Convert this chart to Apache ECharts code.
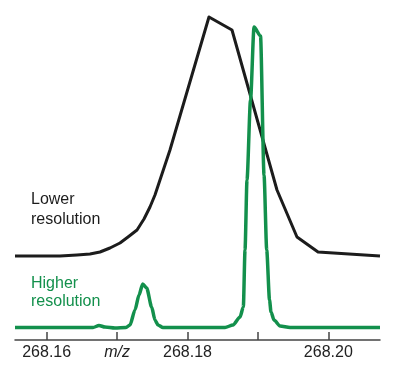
<!DOCTYPE html>
<html>
<head>
<meta charset="utf-8">
<script src="https://cdn.jsdelivr.net/npm/echarts@6/dist/echarts.min.js"></script>
<style>
html,body{margin:0;padding:0;background:#fff;}
#chart{width:393px;height:367px;}
</style>
</head>
<body>
<div id="chart"></div>
<script>
// m/z positions and relative intensities (arbitrary units)
const lowerMz = [268.15550,268.16189,268.16430,268.16615,268.16757,268.16899,268.17041,268.17155,268.17283,268.17382,268.17467,268.17538,268.17609,268.17751,268.18305,268.18632,268.19271,268.19555,268.19854,268.20734];
const lowerInt = [84,84,85,86,88,92,97,103,110,121,133,145,160,190,323,310,150,103,88,84];

const higherMz = [268.15550,268.16544,268.16658,268.16743,268.16828,268.16970,268.17126,268.17183,268.17254,268.17311,268.17364,268.17420,268.17491,268.17538,268.17581,268.17652,268.18533,268.18646,268.18746,268.18793,268.18817,268.18845,268.18895,268.18945,268.19037,268.19087,268.19125,268.19165,268.19186,268.19229,268.19314,268.19456,268.20734];
const higherInt = [12.5,12.5,12.5,14.5,13,12,12.5,15,30,45,56,52,33,20,15,12.5,12.5,15,23,33,90,160,240,313,304,165,90,40,28,20,14,12.5,12.5];

const tickValues = [268.16,268.17,268.18,268.19,268.20];
const labelValues = [268.16,268.17,268.18,268.20];
const axisName = 'm/z';
const axisMin = 268.15550, axisMax = 268.20734;

const chart = echarts.init(document.getElementById('chart'));
const FONT = '"Liberation Sans", Arial, Helvetica, sans-serif';
const GREEN = '#13904c';
const BLACK = '#1c1c1c';

chart.setOption({
  animation:false,
  backgroundColor:'#fff',
  grid:{left:15,right:13,top:10,bottom:27},
  xAxis:{
    type:'value', min:axisMin, max:axisMax,
    axisLine:{show:true, lineStyle:{color:'#444', width:1.5}},
    axisTick:{show:true, inside:true, length:8, customValues:tickValues, lineStyle:{color:'#444', width:1.5}},
    splitLine:{show:false},
    axisLabel:{
      customValues:labelValues, margin:5, color:'#222', fontSize:16, fontFamily:FONT,
      formatter:function(v){ return Math.abs(v-268.17)<1e-6 ? '{i|'+axisName+'}' : Number(v).toFixed(2); },
      rich:{i:{fontStyle:'italic', fontSize:16, fontFamily:FONT, color:'#222'}}
    }
  },
  yAxis:{type:'value', min:0, max:330, show:false},
  series:[
    {type:'line', data:lowerMz.map((x,i)=>[x,lowerInt[i]]), showSymbol:false, smooth:false,
     lineStyle:{color:BLACK, width:3, join:'round'}, z:2},
    {type:'line', data:higherMz.map((x,i)=>[x,higherInt[i]]), showSymbol:false, smooth:0.25, smoothMonotone:'x',
     lineStyle:{color:GREEN, width:3.5, join:'round'}, z:3}
  ],
  graphic:[
    {type:'text', left:31, top:190, style:{text:'Lower\nresolution', font:'16px '+FONT, fill:'#1c1c1c', lineHeight:20}},
    {type:'text', left:31, top:275, style:{text:'Higher\nresolution', font:'16px '+FONT, fill:GREEN, lineHeight:18}}
  ]
});
</script>
</body>
</html>
